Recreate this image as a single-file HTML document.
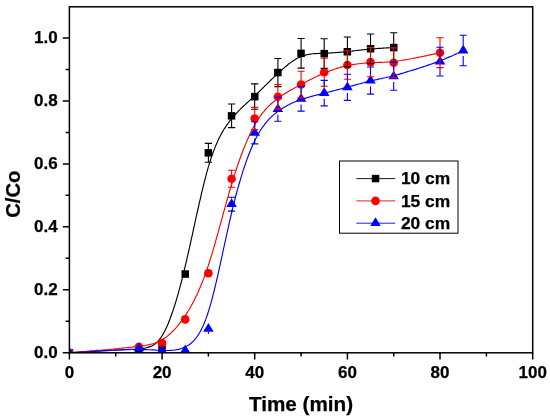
<!DOCTYPE html>
<html><head><meta charset="utf-8"><title>Breakthrough curves</title>
<style>
html,body{margin:0;padding:0;background:#fff;}
svg{display:block;}
text{font-family:"Liberation Sans",Arial,Helvetica,sans-serif;font-weight:bold;fill:#000;stroke:#000;stroke-width:0.25px;}
.tl{font-size:17px;}
.al{font-size:20.7px;}
.yl{font-size:20.2px;}
.lg{font-size:17.4px;}
</style></head><body>
<svg width="550" height="418" viewBox="0 0 550 418">
<defs><clipPath id="cp"><rect x="69.4" y="6.8" width="463.30000000000007" height="346.0"/></clipPath></defs>
<rect width="550" height="418" fill="#fff"/>
<text x="69.4" y="377.7" text-anchor="middle" class="tl">0</text>
<text x="162.1" y="377.7" text-anchor="middle" class="tl">20</text>
<text x="254.7" y="377.7" text-anchor="middle" class="tl">40</text>
<text x="347.4" y="377.7" text-anchor="middle" class="tl">60</text>
<text x="440.0" y="377.7" text-anchor="middle" class="tl">80</text>
<text x="532.7" y="377.7" text-anchor="middle" class="tl">100</text>
<text x="57.6" y="357.9" text-anchor="end" class="tl">0.0</text>
<text x="57.6" y="294.9" text-anchor="end" class="tl">0.2</text>
<text x="57.6" y="231.9" text-anchor="end" class="tl">0.4</text>
<text x="57.6" y="169.0" text-anchor="end" class="tl">0.6</text>
<text x="57.6" y="106.0" text-anchor="end" class="tl">0.8</text>
<text x="57.6" y="43.0" text-anchor="end" class="tl">1.0</text>
<text x="301" y="411.0" text-anchor="middle" class="al">Time (min)</text>
<text transform="translate(20.2,194.2) rotate(-90)" text-anchor="middle" class="yl">C/Co</text>
<g clip-path="url(#cp)">
<path d="M69.4,352.8 L69.4,352.8 L69.4,352.8 L69.4,352.8 L69.5,352.8 L69.6,352.8 L69.7,352.8 L69.9,352.8 L70.1,352.8 L70.5,352.7 L70.8,352.7 L71.3,352.7 L71.9,352.7 L72.6,352.6 L73.4,352.6 L74.3,352.5 L75.3,352.5 L76.5,352.4 L77.8,352.3 L79.3,352.2 L81.0,352.1 L82.8,352.0 L84.8,351.9 L86.9,351.8 L89.2,351.6 L91.5,351.5 L94.0,351.4 L96.6,351.2 L99.2,351.1 L101.9,350.9 L104.6,350.7 L107.4,350.6 L110.2,350.4 L112.9,350.3 L115.7,350.1 L118.4,350.0 L121.1,349.8 L123.8,349.7 L126.3,349.5 L128.8,349.4 L131.2,349.3 L133.4,349.2 L135.6,349.1 L137.6,348.9 L139.6,348.8 L141.4,348.6 L143.2,348.4 L144.9,348.1 L146.5,347.8 L148.0,347.4 L149.5,346.9 L150.9,346.4 L152.3,345.7 L153.6,345.0 L154.9,344.1 L156.1,343.1 L157.4,341.9 L158.6,340.7 L159.7,339.2 L160.9,337.6 L162.1,335.8 L163.2,333.9 L164.4,331.8 L165.5,329.4 L166.7,327.0 L167.9,324.3 L169.0,321.5 L170.2,318.5 L171.3,315.3 L172.5,312.0 L173.6,308.6 L174.8,305.0 L176.0,301.2 L177.1,297.3 L178.3,293.2 L179.4,289.1 L180.6,284.7 L181.8,280.3 L182.9,275.7 L184.1,271.0 L185.2,266.2 L186.4,261.3 L187.5,256.2 L188.7,251.1 L189.9,245.9 L191.0,240.7 L192.2,235.4 L193.3,230.1 L194.5,224.8 L195.6,219.5 L196.8,214.2 L198.0,209.0 L199.1,203.9 L200.3,198.8 L201.4,193.8 L202.6,188.9 L203.8,184.2 L204.9,179.6 L206.1,175.2 L207.2,170.9 L208.4,166.9 L209.5,163.0 L210.7,159.4 L211.9,155.9 L213.0,152.7 L214.2,149.6 L215.3,146.6 L216.5,143.9 L217.7,141.3 L218.8,138.8 L220.0,136.5 L221.1,134.3 L222.3,132.2 L223.4,130.2 L224.6,128.3 L225.8,126.6 L226.9,124.9 L228.1,123.3 L229.2,121.7 L230.4,120.2 L231.6,118.8 L232.7,117.4 L233.9,116.1 L235.0,114.8 L236.2,113.5 L237.3,112.3 L238.5,111.1 L239.7,109.9 L240.8,108.7 L242.0,107.6 L243.1,106.5 L244.3,105.4 L245.5,104.3 L246.6,103.3 L247.8,102.2 L248.9,101.1 L250.1,100.1 L251.2,99.0 L252.4,98.0 L253.6,96.9 L254.7,95.8 L255.9,94.7 L257.0,93.6 L258.2,92.5 L259.4,91.4 L260.5,90.3 L261.7,89.1 L262.8,88.0 L264.0,86.9 L265.1,85.7 L266.3,84.6 L267.5,83.4 L268.6,82.3 L269.8,81.2 L270.9,80.0 L272.1,78.9 L273.3,77.8 L274.4,76.6 L275.6,75.5 L276.7,74.4 L277.9,73.4 L279.0,72.3 L280.2,71.2 L281.4,70.2 L282.5,69.1 L283.7,68.1 L284.8,67.1 L286.0,66.2 L287.2,65.2 L288.3,64.3 L289.5,63.4 L290.6,62.6 L291.8,61.8 L292.9,61.0 L294.1,60.2 L295.3,59.5 L296.4,58.8 L297.6,58.2 L298.7,57.6 L299.9,57.1 L301.1,56.6 L302.2,56.1 L303.4,55.7 L304.5,55.4 L305.7,55.1 L306.8,54.8 L308.0,54.5 L309.2,54.3 L310.3,54.1 L311.5,54.0 L312.6,53.8 L313.8,53.7 L314.9,53.6 L316.1,53.6 L317.3,53.5 L318.4,53.5 L319.6,53.4 L320.7,53.4 L321.9,53.3 L323.1,53.3 L324.2,53.3 L325.4,53.2 L326.5,53.2 L327.7,53.1 L328.8,53.1 L330.0,53.0 L331.2,52.9 L332.3,52.9 L333.5,52.8 L334.6,52.7 L335.8,52.6 L337.0,52.5 L338.1,52.4 L339.3,52.4 L340.4,52.2 L341.6,52.1 L342.7,52.0 L343.9,51.9 L345.1,51.8 L346.2,51.7 L347.4,51.6 L348.5,51.4 L349.7,51.3 L350.9,51.2 L352.0,51.1 L353.2,50.9 L354.3,50.8 L355.5,50.7 L356.6,50.5 L357.8,50.4 L359.0,50.3 L360.1,50.1 L361.3,50.0 L362.4,49.9 L363.6,49.8 L364.8,49.6 L365.9,49.5 L367.1,49.4 L368.2,49.3 L369.4,49.2 L370.5,49.1 L371.7,48.9 L372.9,48.8 L374.0,48.8 L375.1,48.7 L376.3,48.6 L377.4,48.5 L378.5,48.4 L379.6,48.3 L380.6,48.3 L381.6,48.2 L382.6,48.1 L383.6,48.1 L384.5,48.0 L385.4,48.0 L386.3,47.9 L387.1,47.9 L387.9,47.8 L388.6,47.8 L389.2,47.7 L389.8,47.7 L390.4,47.7 L390.9,47.7 L391.3,47.6 L391.7,47.6 L392.1,47.6 L392.4,47.6 L392.6,47.6 L392.9,47.5 L393.1,47.5 L393.2,47.5 L393.4,47.5 L393.5,47.5 L393.5,47.5 L393.6,47.5 L393.6,47.5 L393.7,47.5 L393.7,47.5 L393.7,47.5 L393.7,47.5 L393.7,47.5" fill="none" stroke="#000000" stroke-width="1.15"/>
<rect x="65.7" y="349.1" width="7.5" height="7.5" fill="#000000"/>
<rect x="135.1" y="345.0" width="7.5" height="7.5" fill="#000000"/>
<rect x="158.3" y="344.3" width="7.5" height="7.5" fill="#000000"/>
<rect x="181.5" y="270.3" width="7.5" height="7.5" fill="#000000"/>
<rect x="204.6" y="149.1" width="7.5" height="7.5" fill="#000000"/>
<rect x="227.8" y="112.1" width="7.5" height="7.5" fill="#000000"/>
<rect x="251.0" y="92.9" width="7.5" height="7.5" fill="#000000"/>
<rect x="274.1" y="68.8" width="7.5" height="7.5" fill="#000000"/>
<rect x="297.3" y="49.6" width="7.5" height="7.5" fill="#000000"/>
<rect x="320.5" y="49.9" width="7.5" height="7.5" fill="#000000"/>
<rect x="343.6" y="48.0" width="7.5" height="7.5" fill="#000000"/>
<rect x="366.8" y="45.0" width="7.5" height="7.5" fill="#000000"/>
<rect x="390.0" y="43.8" width="7.5" height="7.5" fill="#000000"/>
<path d="M69.4,352.8 L69.4,352.8 L69.4,352.8 L69.4,352.8 L69.5,352.8 L69.6,352.8 L69.7,352.8 L69.9,352.8 L70.1,352.7 L70.5,352.7 L70.8,352.7 L71.3,352.6 L71.9,352.6 L72.6,352.5 L73.4,352.5 L74.3,352.4 L75.3,352.3 L76.5,352.2 L77.8,352.1 L79.3,351.9 L81.0,351.8 L82.8,351.6 L84.8,351.5 L86.9,351.3 L89.2,351.1 L91.5,350.9 L94.0,350.7 L96.6,350.4 L99.2,350.2 L101.9,350.0 L104.6,349.7 L107.4,349.5 L110.2,349.2 L112.9,349.0 L115.7,348.7 L118.4,348.5 L121.1,348.2 L123.8,347.9 L126.3,347.7 L128.8,347.4 L131.2,347.2 L133.4,346.9 L135.6,346.7 L137.6,346.5 L139.6,346.2 L141.4,346.0 L143.2,345.7 L144.9,345.5 L146.5,345.2 L148.0,344.9 L149.5,344.6 L150.9,344.2 L152.3,343.9 L153.6,343.5 L154.9,343.0 L156.1,342.6 L157.4,342.1 L158.6,341.6 L159.7,341.0 L160.9,340.4 L162.1,339.7 L163.2,339.0 L164.4,338.3 L165.5,337.5 L166.7,336.6 L167.9,335.7 L169.0,334.7 L170.2,333.7 L171.3,332.6 L172.5,331.5 L173.6,330.3 L174.8,329.1 L176.0,327.8 L177.1,326.5 L178.3,325.1 L179.4,323.7 L180.6,322.2 L181.8,320.6 L182.9,319.0 L184.1,317.4 L185.2,315.7 L186.4,313.9 L187.5,312.1 L188.7,310.2 L189.9,308.2 L191.0,306.2 L192.2,304.1 L193.3,301.9 L194.5,299.6 L195.6,297.3 L196.8,294.9 L198.0,292.4 L199.1,289.8 L200.3,287.1 L201.4,284.3 L202.6,281.4 L203.8,278.4 L204.9,275.2 L206.1,272.0 L207.2,268.7 L208.4,265.2 L209.5,261.6 L210.7,258.0 L211.9,254.2 L213.0,250.3 L214.2,246.3 L215.3,242.3 L216.5,238.2 L217.7,234.1 L218.8,229.9 L220.0,225.7 L221.1,221.5 L222.3,217.3 L223.4,213.1 L224.6,208.9 L225.8,204.7 L226.9,200.5 L228.1,196.4 L229.2,192.4 L230.4,188.4 L231.6,184.5 L232.7,180.6 L233.9,176.9 L235.0,173.3 L236.2,169.7 L237.3,166.2 L238.5,162.8 L239.7,159.5 L240.8,156.3 L242.0,153.2 L243.1,150.2 L244.3,147.2 L245.5,144.4 L246.6,141.6 L247.8,138.9 L248.9,136.4 L250.1,133.9 L251.2,131.5 L252.4,129.2 L253.6,127.0 L254.7,124.9 L255.9,122.9 L257.0,121.0 L258.2,119.2 L259.4,117.5 L260.5,115.8 L261.7,114.2 L262.8,112.7 L264.0,111.3 L265.1,109.9 L266.3,108.6 L267.5,107.4 L268.6,106.2 L269.8,105.1 L270.9,104.0 L272.1,103.0 L273.3,102.0 L274.4,101.0 L275.6,100.1 L276.7,99.2 L277.9,98.4 L279.0,97.5 L280.2,96.7 L281.4,95.9 L282.5,95.1 L283.7,94.4 L284.8,93.6 L286.0,92.9 L287.2,92.2 L288.3,91.5 L289.5,90.8 L290.6,90.2 L291.8,89.5 L292.9,88.9 L294.1,88.2 L295.3,87.6 L296.4,87.0 L297.6,86.4 L298.7,85.7 L299.9,85.1 L301.1,84.5 L302.2,83.9 L303.4,83.3 L304.5,82.7 L305.7,82.1 L306.8,81.4 L308.0,80.8 L309.2,80.2 L310.3,79.6 L311.5,79.1 L312.6,78.5 L313.8,77.9 L314.9,77.3 L316.1,76.8 L317.3,76.2 L318.4,75.6 L319.6,75.1 L320.7,74.6 L321.9,74.1 L323.1,73.6 L324.2,73.1 L325.4,72.6 L326.5,72.1 L327.7,71.7 L328.8,71.2 L330.0,70.8 L331.2,70.4 L332.3,70.0 L333.5,69.6 L334.6,69.2 L335.8,68.8 L337.0,68.4 L338.1,68.1 L339.3,67.8 L340.4,67.4 L341.6,67.1 L342.7,66.8 L343.9,66.5 L345.1,66.2 L346.2,66.0 L347.4,65.7 L348.5,65.5 L349.7,65.2 L350.9,65.0 L352.0,64.8 L353.2,64.6 L354.3,64.4 L355.5,64.2 L356.6,64.0 L357.8,63.9 L359.0,63.7 L360.1,63.6 L361.3,63.5 L362.4,63.3 L363.6,63.2 L364.8,63.1 L365.9,63.0 L367.1,62.9 L368.2,62.9 L369.4,62.8 L370.5,62.7 L371.7,62.7 L372.9,62.6 L374.0,62.6 L375.2,62.6 L376.4,62.5 L377.6,62.5 L378.8,62.4 L380.1,62.4 L381.3,62.4 L382.6,62.3 L383.9,62.2 L385.3,62.2 L386.7,62.1 L388.1,62.0 L389.5,61.9 L391.1,61.7 L392.6,61.6 L394.2,61.4 L395.9,61.2 L397.6,61.0 L399.3,60.7 L401.1,60.5 L403.0,60.2 L404.9,59.9 L406.8,59.5 L408.7,59.2 L410.7,58.8 L412.6,58.5 L414.5,58.1 L416.4,57.7 L418.3,57.4 L420.1,57.0 L421.9,56.6 L423.6,56.3 L425.3,55.9 L426.9,55.6 L428.4,55.2 L429.8,54.9 L431.1,54.6 L432.3,54.4 L433.4,54.1 L434.4,53.9 L435.3,53.7 L436.1,53.6 L436.8,53.4 L437.4,53.3 L437.9,53.2 L438.4,53.1 L438.8,53.0 L439.1,52.9 L439.3,52.9 L439.5,52.8 L439.7,52.8 L439.8,52.7 L439.9,52.7 L440.0,52.7 L440.0,52.7 L440.0,52.7 L440.0,52.7 L440.0,52.7" fill="none" stroke="#ff0000" stroke-width="1.15"/>
<circle cx="69.4" cy="352.8" r="4.3" fill="#ff0000"/>
<circle cx="138.9" cy="346.8" r="4.3" fill="#ff0000"/>
<circle cx="162.1" cy="343.0" r="4.3" fill="#ff0000"/>
<circle cx="185.2" cy="319.4" r="4.3" fill="#ff0000"/>
<circle cx="208.4" cy="273.3" r="4.3" fill="#ff0000"/>
<circle cx="231.6" cy="178.8" r="4.3" fill="#ff0000"/>
<circle cx="254.7" cy="118.5" r="4.3" fill="#ff0000"/>
<circle cx="277.9" cy="96.8" r="4.3" fill="#ff0000"/>
<circle cx="301.1" cy="84.5" r="4.3" fill="#ff0000"/>
<circle cx="324.2" cy="72.2" r="4.3" fill="#ff0000"/>
<circle cx="347.4" cy="65.0" r="4.3" fill="#ff0000"/>
<circle cx="370.5" cy="62.1" r="4.3" fill="#ff0000"/>
<circle cx="393.7" cy="62.8" r="4.3" fill="#ff0000"/>
<circle cx="440.0" cy="52.7" r="4.3" fill="#ff0000"/>
<path d="M69.4,352.8 L69.4,352.8 L69.4,352.8 L69.4,352.8 L69.5,352.8 L69.6,352.8 L69.7,352.8 L69.9,352.8 L70.1,352.8 L70.5,352.7 L70.8,352.7 L71.3,352.7 L71.9,352.6 L72.6,352.6 L73.4,352.5 L74.3,352.5 L75.3,352.4 L76.5,352.3 L77.8,352.3 L79.3,352.2 L81.0,352.1 L82.8,351.9 L84.8,351.8 L86.9,351.7 L89.2,351.6 L91.5,351.4 L94.0,351.3 L96.6,351.1 L99.2,351.0 L101.9,350.8 L104.6,350.6 L107.4,350.5 L110.2,350.4 L112.9,350.2 L115.7,350.1 L118.4,350.0 L121.1,349.9 L123.8,349.8 L126.3,349.7 L128.8,349.6 L131.2,349.5 L133.4,349.5 L135.6,349.5 L137.6,349.5 L139.6,349.5 L141.4,349.5 L143.2,349.5 L144.9,349.6 L146.5,349.6 L148.0,349.7 L149.5,349.7 L150.9,349.8 L152.3,349.9 L153.6,349.9 L154.9,350.0 L156.1,350.1 L157.4,350.2 L158.6,350.2 L159.7,350.3 L160.9,350.4 L162.1,350.4 L163.2,350.5 L164.4,350.5 L165.5,350.5 L166.7,350.5 L167.9,350.5 L169.0,350.5 L170.2,350.5 L171.3,350.4 L172.5,350.3 L173.6,350.2 L174.8,350.0 L176.0,349.8 L177.1,349.6 L178.3,349.4 L179.4,349.1 L180.6,348.7 L181.8,348.3 L182.9,347.9 L184.1,347.4 L185.2,346.9 L186.4,346.3 L187.5,345.7 L188.7,345.0 L189.9,344.2 L191.0,343.3 L192.2,342.3 L193.3,341.2 L194.5,339.9 L195.6,338.6 L196.8,337.0 L198.0,335.4 L199.1,333.5 L200.3,331.5 L201.4,329.3 L202.6,326.9 L203.8,324.3 L204.9,321.5 L206.1,318.4 L207.2,315.2 L208.4,311.6 L209.5,307.9 L210.7,303.8 L211.9,299.6 L213.0,295.2 L214.2,290.5 L215.3,285.8 L216.5,280.8 L217.7,275.8 L218.8,270.7 L220.0,265.5 L221.1,260.2 L222.3,254.8 L223.4,249.5 L224.6,244.1 L225.8,238.8 L226.9,233.5 L228.1,228.3 L229.2,223.1 L230.4,218.0 L231.6,213.1 L232.7,208.2 L233.9,203.5 L235.0,199.0 L236.2,194.5 L237.3,190.2 L238.5,186.0 L239.7,182.0 L240.8,178.1 L242.0,174.3 L243.1,170.6 L244.3,167.1 L245.5,163.7 L246.6,160.4 L247.8,157.2 L248.9,154.2 L250.1,151.2 L251.2,148.5 L252.4,145.8 L253.6,143.2 L254.7,140.8 L255.9,138.5 L257.0,136.3 L258.2,134.2 L259.4,132.2 L260.5,130.3 L261.7,128.5 L262.8,126.9 L264.0,125.3 L265.1,123.7 L266.3,122.3 L267.5,120.9 L268.6,119.7 L269.8,118.4 L270.9,117.3 L272.1,116.2 L273.3,115.1 L274.4,114.1 L275.6,113.2 L276.7,112.3 L277.9,111.4 L279.0,110.6 L280.2,109.8 L281.4,109.0 L282.5,108.3 L283.7,107.6 L284.8,106.9 L286.0,106.2 L287.2,105.6 L288.3,105.0 L289.5,104.4 L290.6,103.8 L291.8,103.3 L292.9,102.8 L294.1,102.3 L295.3,101.8 L296.4,101.3 L297.6,100.9 L298.7,100.4 L299.9,100.0 L301.1,99.6 L302.2,99.2 L303.4,98.8 L304.5,98.5 L305.7,98.1 L306.8,97.7 L308.0,97.4 L309.2,97.1 L310.3,96.7 L311.5,96.4 L312.6,96.1 L313.8,95.8 L314.9,95.5 L316.1,95.2 L317.3,94.9 L318.4,94.6 L319.6,94.3 L320.7,94.0 L321.9,93.7 L323.1,93.4 L324.2,93.1 L325.4,92.9 L326.5,92.6 L327.7,92.3 L328.8,92.0 L330.0,91.7 L331.2,91.4 L332.3,91.1 L333.5,90.8 L334.6,90.5 L335.8,90.2 L337.0,89.9 L338.1,89.6 L339.3,89.3 L340.4,89.0 L341.6,88.7 L342.7,88.4 L343.9,88.1 L345.1,87.8 L346.2,87.5 L347.4,87.2 L348.5,86.9 L349.7,86.5 L350.9,86.2 L352.0,85.9 L353.2,85.6 L354.3,85.3 L355.5,84.9 L356.6,84.6 L357.8,84.3 L359.0,84.0 L360.1,83.7 L361.3,83.4 L362.4,83.0 L363.6,82.7 L364.8,82.4 L365.9,82.1 L367.1,81.8 L368.2,81.6 L369.4,81.3 L370.5,81.0 L371.7,80.7 L372.9,80.4 L374.0,80.2 L375.2,79.9 L376.4,79.7 L377.6,79.4 L378.8,79.1 L380.1,78.8 L381.3,78.6 L382.6,78.3 L383.9,78.0 L385.3,77.7 L386.7,77.3 L388.1,77.0 L389.5,76.7 L391.1,76.3 L392.6,75.9 L394.2,75.5 L395.9,75.0 L397.6,74.6 L399.3,74.1 L401.2,73.6 L403.0,73.1 L404.9,72.5 L406.9,71.9 L408.8,71.3 L410.8,70.7 L412.8,70.1 L414.8,69.5 L416.9,68.9 L418.9,68.2 L420.9,67.5 L422.9,66.9 L424.9,66.2 L426.9,65.6 L428.8,64.9 L430.7,64.2 L432.6,63.6 L434.4,62.9 L436.2,62.3 L437.9,61.6 L439.5,61.0 L441.1,60.4 L442.7,59.7 L444.1,59.2 L445.6,58.6 L446.9,58.0 L448.2,57.4 L449.5,56.9 L450.7,56.4 L451.8,55.9 L452.9,55.4 L453.9,54.9 L454.8,54.5 L455.7,54.1 L456.6,53.7 L457.3,53.3 L458.1,53.0 L458.7,52.7 L459.3,52.4 L459.9,52.1 L460.4,51.9 L460.8,51.6 L461.2,51.4 L461.6,51.3 L461.9,51.1 L462.1,51.0 L462.4,50.9 L462.6,50.8 L462.7,50.7 L462.9,50.7 L463.0,50.6 L463.0,50.6 L463.1,50.5 L463.1,50.5 L463.2,50.5 L463.2,50.5 L463.2,50.5 L463.2,50.5 L463.2,50.5" fill="none" stroke="#0000ff" stroke-width="1.15"/>
<path d="M69.4,346.9L74.7,355.7H64.1Z" fill="#0000ff"/>
<path d="M138.9,342.5L144.2,351.3H133.6Z" fill="#0000ff"/>
<path d="M162.1,345.0L167.4,353.8H156.8Z" fill="#0000ff"/>
<path d="M185.2,344.5L190.5,353.3H179.9Z" fill="#0000ff"/>
<path d="M208.4,322.9L213.7,331.7H203.1Z" fill="#0000ff"/>
<path d="M231.6,198.3L236.9,207.1H226.3Z" fill="#0000ff"/>
<path d="M254.7,126.9L260.0,135.7H249.4Z" fill="#0000ff"/>
<path d="M277.9,103.3L283.2,112.1H272.6Z" fill="#0000ff"/>
<path d="M301.1,92.9L306.4,101.7H295.8Z" fill="#0000ff"/>
<path d="M324.2,87.3L329.5,96.1H318.9Z" fill="#0000ff"/>
<path d="M347.4,81.4L352.7,90.2H342.1Z" fill="#0000ff"/>
<path d="M370.5,74.7L375.8,83.5H365.2Z" fill="#0000ff"/>
<path d="M393.7,70.4L399.0,79.2H388.4Z" fill="#0000ff"/>
<path d="M440.0,55.8L445.3,64.6H434.7Z" fill="#0000ff"/>
<path d="M463.2,44.6L468.5,53.4H457.9Z" fill="#0000ff"/>
<path d="M208.4,143.4V149.3M208.4,156.3V162.3M204.8,143.4h7.2M204.8,162.3h7.2M231.6,104.0V112.3M231.6,119.3V127.6M228.0,104.0h7.2M228.0,127.6h7.2M254.7,83.9V93.1M254.7,100.1V109.3M251.1,83.9h7.2M251.1,109.3h7.2M277.9,58.5V69.0M277.9,76.0V86.6M274.3,58.5h7.2M274.3,86.6h7.2M301.1,38.5V49.8M301.1,56.8V68.1M297.5,38.5h7.2M297.5,68.1h7.2M324.2,38.8V50.1M324.2,57.1V68.4M320.6,38.8h7.2M320.6,68.4h7.2M347.4,37.0V48.3M347.4,55.3V66.6M343.8,37.0h7.2M343.8,66.6h7.2M370.5,34.0V45.3M370.5,52.3V63.6M366.9,34.0h7.2M366.9,63.6h7.2M393.7,32.7V44.0M393.7,51.0V62.3M390.1,32.7h7.2M390.1,62.3h7.2" fill="none" stroke="#000000" stroke-width="1.1"/>
<path d="M204.8,270.8h7.2M204.8,275.8h7.2M231.6,170.3V174.8M231.6,182.8V187.2M228.0,170.3h7.2M228.0,187.2h7.2M254.7,107.4V114.5M254.7,122.5V129.6M251.1,107.4h7.2M251.1,129.6h7.2M277.9,84.5V92.8M277.9,100.8V109.1M274.3,84.5h7.2M274.3,109.1h7.2M301.1,71.3V80.5M301.1,88.5V97.7M297.5,71.3h7.2M297.5,97.7h7.2M324.2,58.2V68.2M324.2,76.2V86.2M320.6,58.2h7.2M320.6,86.2h7.2M347.4,50.8V61.0M347.4,69.0V79.2M343.8,50.8h7.2M343.8,79.2h7.2M370.5,47.5V58.1M370.5,66.1V76.8M366.9,47.5h7.2M366.9,76.8h7.2M393.7,47.9V58.8M393.7,66.8V77.7M390.1,47.9h7.2M390.1,77.7h7.2M440.0,37.8V48.7M440.0,56.7V67.6M436.4,37.8h7.2M436.4,67.6h7.2" fill="none" stroke="#ff0000" stroke-width="1.1"/>
<path d="M208.4,331.7V334.1M231.6,197.2V198.6M231.6,209.8V211.1M228.0,197.2h7.2M228.0,211.1h7.2M254.7,121.8V127.2M254.7,138.4V143.9M251.1,121.8h7.2M251.1,143.9h7.2M277.9,97.3V103.6M277.9,114.8V121.2M274.3,97.3h7.2M274.3,121.2h7.2M301.1,86.6V93.2M301.1,104.4V111.1M297.5,86.6h7.2M297.5,111.1h7.2M324.2,80.4V87.6M324.2,98.8V105.9M320.6,80.4h7.2M320.6,105.9h7.2M347.4,74.3V81.7M347.4,92.9V100.4M343.8,74.3h7.2M343.8,100.4h7.2M370.5,67.0V75.0M370.5,86.2V94.1M366.9,67.0h7.2M366.9,94.1h7.2M393.7,62.5V70.7M393.7,81.9V90.2M390.1,62.5h7.2M390.1,90.2h7.2M440.0,47.3V56.1M440.0,67.3V76.0M436.4,47.3h7.2M436.4,76.0h7.2M463.2,35.3V44.9M463.2,56.1V65.7M459.6,35.3h7.2M459.6,65.7h7.2" fill="none" stroke="#0000ff" stroke-width="1.1"/>
</g>
<rect x="69.4" y="6.8" width="463.30000000000007" height="346.0" fill="none" stroke="#000" stroke-width="1.5"/>
<path d="M69.4,352.8v6.6M115.7,352.8v3.7M162.1,352.8v6.6M208.4,352.8v3.7M254.7,352.8v6.6M301.1,352.8v3.7M347.4,352.8v6.6M393.7,352.8v3.7M440.0,352.8v6.6M486.4,352.8v3.7M532.7,352.8v6.6M69.4,352.8h-6.6M69.4,321.3h-3.7M69.4,289.8h-6.6M69.4,258.3h-3.7M69.4,226.8h-6.6M69.4,195.3h-3.7M69.4,163.9h-6.6M69.4,132.4h-3.7M69.4,100.9h-6.6M69.4,69.4h-3.7M69.4,37.9h-6.6" stroke="#000" stroke-width="1.5" fill="none"/>
<rect x="339.5" y="161" width="118.5" height="72.2" fill="#fff" stroke="#000" stroke-width="1"/>
<path d="M356.4,178.6H395.2" stroke="#000000" stroke-width="0.9"/>
<rect x="371.8" y="174.8" width="7.5" height="7.5" fill="#000000"/>
<text x="400.9" y="184.3" class="lg">10 cm</text>
<path d="M356.4,200.9H395.2" stroke="#ff0000" stroke-width="0.9"/>
<circle cx="375.5" cy="200.9" r="4.3" fill="#ff0000"/>
<text x="400.9" y="206.6" class="lg">15 cm</text>
<path d="M356.4,223.2H395.2" stroke="#0000ff" stroke-width="0.9"/>
<path d="M375.5,217.3L380.8,226.1H370.2Z" fill="#0000ff"/>
<text x="400.9" y="228.9" class="lg">20 cm</text>
</svg>
</body></html>
